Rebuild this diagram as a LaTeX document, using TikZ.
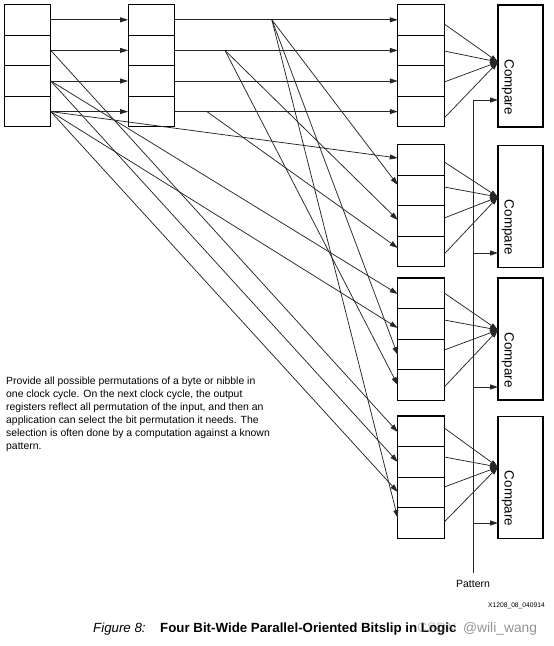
\documentclass[tikz,border=0pt]{standalone}
\usepackage{fontspec}
\setmainfont{Liberation Sans}
\usetikzlibrary{arrows.meta}
\begin{document}
\begin{tikzpicture}[x=1pt,y=-1pt,
  cell/.style={draw=black, line width=1.1pt, minimum width=46.5pt, minimum height=30.6pt, inner sep=0pt, outer sep=0pt},
  cmpbox/.style={draw=black, line width=1.1pt, minimum width=45pt, minimum height=122pt, inner sep=0pt, outer sep=0pt},
  cmptext/.style={rotate=-90, inner sep=0pt, font=\fontsize{13.4}{15}\selectfont},
  conn/.style={draw=black!85, line width=0.75pt},
  arr/.style={conn, -{Triangle[length=8pt,width=5pt]}},
  desc/.style={anchor=base west, inner sep=0pt, font=\fontsize{10.4}{13}\selectfont},
  capfont/.style={anchor=base west, inner sep=0pt, font=\fontsize{13.3}{15}\selectfont}
]
\useasboundingbox (0,0) rectangle (554,646);

% input registers A and B
\foreach \i in {0,...,3} {
  \node[cell] (A\i) at (27.5,{19.8+30.6*\i}) {};
  \node[cell] (B\i) at (151.3,{19.8+30.6*\i}) {};
}
% output registers
\foreach \g/\t in {1/4.5,2/144.5,3/278,4/416} {
  \foreach \i in {0,...,3} {
    \node[cell] (O\g\i) at (421,{\t+15.3+30.6*\i}) {};
  }
}
% compare boxes
\foreach \g/\c in {1/66,2/206.5,3/339,4/477.5} {
  \node[cmpbox] (C\g) at (520.5,\c) {};
  \node[cmptext] (T\g) at (508,{\c+21}) {Compare};
}

% A -> B and B -> group 1
\foreach \i in {0,...,3} {
  \draw[arr] (A\i.east) -- (B\i.west);
  \draw[arr] (B\i.east) -- (O1\i.west);
}

% branch points on B rows
\path (B0.east) -- (O10.west) coordinate[pos=0.436] (br0);
\path (B1.east) -- (O11.west) coordinate[pos=0.226] (br1);
\path (B3.east) -- (O13.west) coordinate[pos=0.145] (br3);

% group 2
\draw[arr] (A3.east) -- (O20.west |- 0,158);
\draw[arr] (br0) -- (O21.west |- 0,185);
\draw[arr] (br1) -- (O22.west |- 0,220);
\draw[arr] (br3) -- (O23.west |- 0,248);
% group 3
\draw[arr] (A2.east) -- (O30.west |- 0,294);
\draw[arr] (A3.east) -- (O31.west |- 0,328);
\draw[arr] (br0) -- (O32.west |- 0,355);
\draw[arr] (br1) -- (O33.west |- 0,385);
% group 4
\draw[arr] (A1.east) -- (O40.west |- 0,432);
\draw[arr] (A2.east) -- (O41.west |- 0,462);
\draw[arr] (A3.east) -- (O42.west |- 0,492);
\draw[arr] (br0) -- (O43.west |- 0,518);

% outputs -> compare
\foreach \g/\cy/\ya/\yb/\yc/\yd in {1/62/24/51/82/118, 2/197/162/187/218/254, 3/330/293/320/350/387, 4/467/428/457/487/522} {
  \coordinate (cv\g) at (C\g.west |- 0,\cy);
  \draw[arr] (O\g0.east |- 0,\ya) -- (cv\g);
  \draw[arr] (O\g1.east |- 0,\yb) -- (cv\g);
  \draw[arr] (O\g2.east |- 0,\yc) -- (cv\g);
  \draw[arr] (O\g3.east |- 0,\yd) -- (cv\g);
}

% pattern
\coordinate (pb) at (473,573);
\node[anchor=base, inner sep=0pt, font=\fontsize{10.5}{12}\selectfont] (pat) at (473,587) {Pattern};
\foreach \g/\py in {1/100,2/253,3/387,4/523} {
  \coordinate (pt\g) at (C\g.west |- 0,\py);
}
\draw[arr] (pb) -- (pb |- pt1) -- (pt1);
\foreach \g in {2,3,4} {
  \draw[arr] (pb |- pt\g) -- (pt\g);
}

% description
\foreach \t [count=\k] in {
  {Provide all possible permutations of a byte or nibble in},
  {one clock cycle. On the next clock cycle, the output},
  {registers reflect all permutation of the input, and then an},
  {application can select the bit permutation it needs. The},
  {selection is often done by a computation against a known},
  {pattern.}} {
  \node[desc] (d\k) at (6,{371+13.1*\k}) {\t};
}

% id and caption
\node[anchor=base east, inner sep=0pt, font=\fontsize{6.7}{8}\selectfont] (xid) at (545,607) {X1208\_08\_040914};
\node[capfont] (figno) at (93,632) {\itshape Figure 8:};
\node[capfont] (cap) at (160,632) {\bfseries Four Bit-Wide Parallel-Oriented Bitslip in Logic};
\node[anchor=base west, inner sep=0pt, font=\fontsize{13.8}{15}\selectfont, text=gray, text opacity=0.45] (wm1) at (417,632) {CSDN};
\node[anchor=base west, inner sep=0pt, font=\fontsize{13.8}{15}\selectfont, text=gray!85] (wm2) at (463,632) {@wili\_wang};
\end{tikzpicture}
\end{document}
